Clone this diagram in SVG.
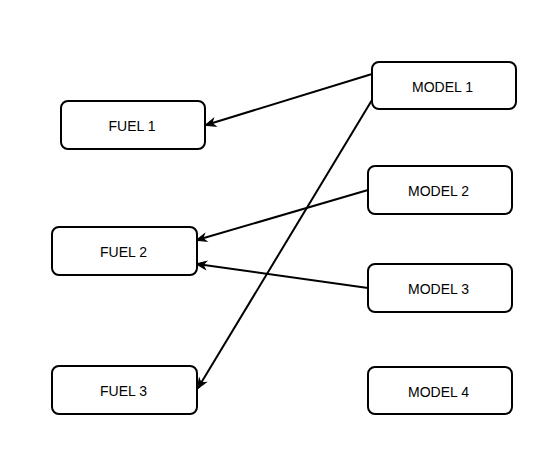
<svg xmlns="http://www.w3.org/2000/svg" width="556" height="469" viewBox="0 0 556 469">
<style>
.n rect{fill:#fff;stroke:#000;stroke-width:2}
.n text{font-family:"Liberation Sans",Arial,sans-serif;font-size:14px;fill:#000;text-anchor:middle;dominant-baseline:central}
.c path{fill:none;stroke:#000;stroke-width:2}
</style>
<defs>
<marker id="a" viewBox="0 0 10 8" refX="9" refY="4" markerWidth="10" markerHeight="8" markerUnits="userSpaceOnUse" orient="auto" overflow="visible">
<path d="M0,0 L10,4 L0,8 L3,4 Z" fill="#000" stroke="#000" stroke-width="1"/>
</marker>
</defs>
<rect width="556" height="469" fill="#fff"/>
<g class="c">
<path d="M372,74 L206,125" marker-end="url(#a)"/>
<path d="M372,100 L198,388" marker-end="url(#a)"/>
<path d="M368,190 L197,240" marker-end="url(#a)"/>
<path d="M368,288 L197,264" marker-end="url(#a)"/>
</g>
<g id="fuel1" class="n"><rect x="61" y="101" width="144" height="48" rx="7"/><text x="132" y="126">FUEL 1</text></g>
<g id="fuel2" class="n"><rect x="52" y="227" width="145" height="48" rx="7"/><text x="123.5" y="252">FUEL 2</text></g>
<g id="fuel3" class="n"><rect x="52" y="366" width="145" height="48" rx="7"/><text x="123.5" y="391">FUEL 3</text></g>
<g id="model1" class="n"><rect x="372" y="62" width="144" height="47" rx="7"/><text x="442.5" y="86.5">MODEL 1</text></g>
<g id="model2" class="n"><rect x="368" y="166" width="144" height="48" rx="7"/><text x="438.5" y="191">MODEL 2</text></g>
<g id="model3" class="n"><rect x="368" y="264" width="144" height="48" rx="7"/><text x="438.5" y="289">MODEL 3</text></g>
<g id="model4" class="n"><rect x="368" y="367" width="144" height="47" rx="7"/><text x="438.5" y="391.5">MODEL 4</text></g>
</svg>
